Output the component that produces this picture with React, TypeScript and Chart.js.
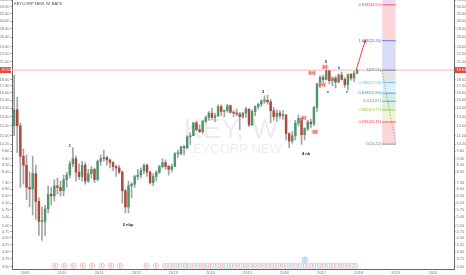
import React, { useEffect, useRef } from "react";
import { Chart, registerables } from "chart.js";

Chart.register(...registerables);

// Monthly candles, first candle = September 2008
const startYear = 2008;
const startMonth = 9;

const opens = [
  12.0, 13.8, 12.0, 9.2,
  8.5, 7.0, 6.9, 7.9, 6.2, 5.2, 5.2, 5.8, 6.6, 6.5, 7.1, 7.0,
  6.8, 7.5, 7.8, 8.6, 9.0, 8.0, 7.7, 8.5, 7.4, 7.9, 8.2, 7.5,
  8.8, 9.0, 9.1, 8.9, 8.7, 8.4, 8.3, 8.0, 6.8, 5.9, 7.1, 7.2,
  7.7, 7.8, 8.1, 8.5, 8.0, 7.3, 7.7, 8.0, 8.4, 8.7, 8.4, 8.2,
  8.4, 9.4, 9.4, 10.0, 9.9, 10.9, 11.0, 12.3, 11.6, 11.4, 12.5, 12.9,
  13.4, 12.9, 13.1, 14.2, 13.6, 13.7, 14.3, 13.5, 13.4, 13.3, 13.0, 13.4,
  13.9, 12.1, 13.6, 14.2, 14.5, 14.9, 15.0, 14.8, 13.7, 13.0, 13.4, 13.1,
  13.2, 11.2, 10.5, 11.0, 12.3, 12.8, 11.1, 11.7, 12.4, 12.2, 14.1, 17.3,
  18.3, 18.0, 19.4, 17.8, 18.2, 17.6, 18.7, 18.0, 17.2, 18.8, 18.2, 19.0,
];
const highs = [
  18.7, 15.4, 12.3, 9.8,
  9.3, 8.0, 9.2, 8.5, 6.4, 5.9, 6.0, 7.1, 7.0, 7.5, 7.6, 7.4,
  7.8, 8.0, 8.8, 9.9, 9.2, 8.6, 8.8, 8.7, 8.2, 8.4, 8.3, 8.9,
  9.3, 9.7, 9.2, 9.0, 8.8, 8.5, 8.5, 8.1, 6.9, 7.4, 7.3, 7.8,
  8.2, 8.3, 8.6, 8.6, 8.1, 7.9, 8.1, 8.5, 9.0, 8.9, 8.5, 8.6,
  9.5, 9.7, 10.0, 10.1, 11.0, 11.3, 12.4, 12.5, 12.1, 12.6, 13.1, 13.6,
  14.0, 13.4, 14.4, 14.4, 13.8, 14.5, 14.4, 13.7, 13.9, 13.5, 13.5, 14.1,
  13.9, 13.8, 14.3, 14.6, 15.1, 15.6, 15.7, 15.1, 14.1, 13.8, 13.7, 13.7,
  13.2, 11.3, 11.4, 12.6, 13.2, 12.9, 11.8, 12.6, 12.7, 14.2, 17.4, 18.6,
  18.7, 19.6, 19.5, 18.4, 18.5, 18.9, 19.2, 18.3, 18.9, 19.0, 19.3, 19.6,
];
const lows = [
  11.0, 9.5, 7.0, 7.2,
  6.3, 5.9, 5.5, 5.3, 4.6, 4.4, 4.6, 5.6, 6.0, 6.2, 6.6, 6.5,
  6.5, 7.0, 7.6, 8.4, 7.4, 7.5, 7.4, 7.2, 7.3, 7.6, 7.3, 7.4,
  8.5, 8.8, 8.5, 8.3, 8.1, 7.7, 7.9, 6.1, 5.6, 5.6, 6.4, 7.0,
  7.5, 7.6, 7.9, 7.7, 7.2, 7.1, 7.4, 7.9, 8.3, 8.2, 7.8, 8.0,
  8.4, 9.1, 9.3, 9.3, 9.8, 10.2, 11.0, 11.5, 11.3, 11.2, 12.3, 12.6,
  12.7, 12.4, 13.0, 13.1, 13.0, 13.5, 13.4, 13.0, 13.1, 11.6, 12.8, 12.9,
  11.9, 12.0, 13.1, 13.9, 14.2, 14.6, 14.5, 12.3, 12.6, 12.5, 12.8, 12.7,
  10.6, 9.9, 10.3, 10.6, 12.0, 10.2, 10.6, 11.5, 11.8, 12.0, 13.6, 16.8,
  17.3, 17.9, 17.3, 17.0, 16.7, 17.5, 17.9, 16.8, 16.4, 17.9, 17.6, 18.9,
];
const closes = [
  13.8, 12.0, 9.2, 8.5,
  7.0, 6.9, 7.9, 6.2, 5.2, 5.2, 5.8, 6.6, 6.5, 7.1, 7.0, 6.8,
  7.5, 7.8, 8.6, 9.0, 8.0, 7.7, 8.5, 7.4, 7.9, 8.2, 7.5, 8.8,
  9.0, 9.1, 8.9, 8.7, 8.4, 8.3, 8.0, 6.8, 5.9, 7.1, 7.2, 7.7,
  7.8, 8.1, 8.5, 8.0, 7.3, 7.7, 8.0, 8.4, 8.7, 8.4, 8.2, 8.4,
  9.4, 9.4, 10.0, 9.9, 10.9, 11.0, 12.3, 11.6, 11.4, 12.5, 12.9, 13.4,
  12.9, 13.1, 14.2, 13.6, 13.7, 14.3, 13.5, 13.4, 13.3, 13.0, 13.4, 13.9,
  12.1, 13.6, 14.2, 14.5, 14.9, 15.0, 14.8, 13.7, 13.0, 13.4, 13.1, 13.2,
  11.2, 10.5, 11.0, 12.3, 12.8, 11.1, 11.7, 12.4, 12.2, 14.1, 17.3, 18.3,
  18.0, 19.4, 17.8, 18.2, 17.6, 18.7, 18.0, 17.2, 18.8, 18.2, 19.0, 19.53,
];

const lastPrice = 19.53;

const yearTicks = [2009, 2010, 2011, 2012, 2013, 2014, 2015, 2016, 2017, 2018, 2019, 2020];
const priceTicks = [
  3.5, 3.75, 4.0, 4.25, 4.5, 4.75, 5.0, 5.4, 5.75, 6.1, 6.5, 6.9, 7.3, 8.0, 8.5, 9.0, 9.6,
  10.2, 11.0, 12.0, 13.0, 14.0, 15.0, 16.0, 17.0, 18.0, 21.0, 22.5, 24.0, 26.0, 28.0, 30.0,
  32.0, 34.0, 36.0,
];

const X_MIN = 2008.65;
const X_MAX = 2020.57;
const Y_MIN = 3.43;
const Y_MAX = 36.05;

// Fibonacci extension (last entry = top edge of the band above 2.618)
const fibRatios = [0, 0.236, 0.382, 0.5, 0.618, 0.786, 1, 1.618, 2.618, 3.618];
const fibPrices = [10.22, 12.41, 13.77, 14.87, 15.96, 17.53, 19.51, 25.26, 34.55, 36.05];
const fibColors = ["#787b86", "#f23645", "#9fbf2a", "#4caf50", "#22a18e", "#64b5f6", "#787b86", "#5060e0", "#f23645", "rgba(0,0,0,0)"];
const fibBands = [
  "rgba(0,0,0,0)", "rgba(242,54,69,0.2)", "rgba(175,205,60,0.22)", "rgba(76,175,80,0.2)",
  "rgba(34,161,142,0.2)", "rgba(100,181,246,0.22)", "rgba(120,123,134,0.2)", "rgba(80,96,224,0.22)",
  "rgba(242,54,69,0.2)", "rgba(176,64,200,0.2)",
];
const fibStartYear = 2018.63;
const fibEndYear = 2019.0;

// Arrow projection
const arrowYears = [2017.93, 2018.17];
const arrowPrices = [19.53, 25.1];

// Wave labels
const waveTexts = ["1", "2 nbp", "3", "4 nb", "5", "(i)", "(ii)", "(iii)", "(iv)", "(v)", "a", "b", "c"];
const waveYears = [2010.21, 2011.78, 2015.42, 2016.58, 2017.12, 2016.52, 2016.82, 2016.74, 2017.01, 2017.09, 2017.17, 2017.47, 2017.68];
const wavePrices = [10.07, 5.05, 16.14, 9.39, 20.98, 12.86, 11.38, 19.05, 17.16, 20.08, 16.14, 19.9, 16.14];
const waveKinds = ["k", "k", "k", "k", "k", "r", "r", "r", "r", "r", "b", "b", "b"];

// Event markers along the bottom
const earningsYears = [
  2009.81, 2010.06, 2010.31, 2010.56, 2010.81, 2011.07, 2011.32, 2011.56,
  2012.28, 2012.53, 2012.78, 2013.03, 2013.29, 2013.54, 2013.78, 2014.02, 2014.28, 2014.53,
  2014.78, 2015.03, 2015.27, 2015.51, 2015.77, 2016.02, 2016.27, 2016.52, 2016.77, 2017.03,
  2017.28, 2017.53, 2017.78,
];
const dividendYears = [
  2012.9, 2013.15, 2013.4, 2013.65, 2013.9, 2014.15, 2014.4, 2014.65, 2014.9, 2015.15,
  2015.4, 2015.65, 2015.9, 2016.15, 2016.4, 2016.65, 2016.9, 2017.15, 2017.4, 2017.65, 2017.9,
];
const splitYears = [2016.55];
const markerPrice = 3.53;
const splitPrice = 3.72;

const FONT = "'Liberation Sans', Arial, sans-serif";

export default function App() {
  const ref = useRef<HTMLCanvasElement>(null);

  useEffect(() => {
    document.body.style.margin = "0";
    const canvas = ref.current!;
    Chart.defaults.font.family = FONT;

    const candleX = opens.map((_, i) => {
      const m = startMonth - 1 + i;
      return startYear + Math.floor(m / 12) + ((m % 12) + 0.5) / 12;
    });
    const up = "#4a9a6e";
    const down = "#b0473b";

    const fibDatasets = fibPrices.map((p, i) => ({
      type: "line" as const,
      data: [
        { x: fibStartYear, y: p },
        { x: fibEndYear, y: p },
      ],
      borderColor: fibColors[i],
      borderWidth: 0.8,
      pointRadius: 0,
      fill: i === 0 ? false : "-1",
      backgroundColor: fibBands[i],
      order: 5,
    }));

    const overlay = {
      id: "overlay",
      beforeDatasetsDraw(chart: any) {
        const c = chart.ctx;
        c.save();
        c.fillStyle = "rgba(0,0,0,0.075)";
        c.textAlign = "center";
        c.textBaseline = "alphabetic";
        c.font = `28px ${FONT}`;
        c.fillText("KEY, W", 231, 138);
        c.font = `13px ${FONT}`;
        c.fillText("KEYCORP NEW", 233, 153);
        c.restore();
      },
      afterDraw(chart: any) {
        const c = chart.ctx;
        const xs = chart.scales.x;
        const ys = chart.scales.y;
        c.save();
        // title
        c.font = `4px ${FONT}`;
        c.fillStyle = "#444";
        c.textAlign = "left";
        c.textBaseline = "middle";
        c.fillText("KEYCORP NEW, W, BATS", 14, 4);

        // fib labels
        const lx = xs.getPixelForValue(fibStartYear) - 1;
        c.textAlign = "right";
        for (let i = 0; i < fibRatios.length - 1; i++) {
          const py = ys.getPixelForValue(fibPrices[i]);
          c.fillStyle = fibColors[i];
          c.fillText(`${fibRatios[i]}(${fibPrices[i].toFixed(2)})`, lx, py);
        }

        // wave labels
        c.textAlign = "center";
        for (let i = 0; i < waveTexts.length; i++) {
          const px = xs.getPixelForValue(waveYears[i]);
          const py = ys.getPixelForValue(wavePrices[i]);
          const kind = waveKinds[i];
          c.font = `bold 4px ${FONT}`;
          if (kind === "r") {
            const w = c.measureText(waveTexts[i]).width + 2;
            c.fillStyle = "rgba(245,180,180,0.6)";
            c.fillRect(px - w / 2, py - 2.5, w, 5);
            c.fillStyle = "#e03030";
          } else if (kind === "b") {
            c.fillStyle = "#3050e0";
          } else {
            c.fillStyle = "#222";
          }
          c.fillText(waveTexts[i], px, py);
        }

        // event marker letters
        c.font = `3px ${FONT}`;
        c.fillStyle = "#e57373";
        earningsYears.forEach((yr) => {
          c.fillText("E", xs.getPixelForValue(yr), ys.getPixelForValue(markerPrice));
        });
        c.fillStyle = "#5aa0e0";
        dividendYears.forEach((yr) => {
          c.fillText("D", xs.getPixelForValue(yr), ys.getPixelForValue(markerPrice));
        });
        splitYears.forEach((yr) => {
          c.fillText("S", xs.getPixelForValue(yr), ys.getPixelForValue(splitPrice));
        });

        // price tags
        const ty = ys.getPixelForValue(lastPrice);
        c.fillStyle = "#e4483c";
        c.fillRect(455, ty - 3, 11, 6);
        c.fillRect(0, ty - 3, 11, 6);
        c.fillStyle = "#fff";
        c.font = `4px ${FONT}`;
        c.textAlign = "left";
        c.fillText(lastPrice.toFixed(2), 456.5, ty);
        c.fillText(lastPrice.toFixed(2), 1, ty);
        c.restore();
      },
    };

    const yAxisBase = (position: "left" | "right") => ({
      type: "logarithmic" as const,
      position,
      min: Y_MIN,
      max: Y_MAX,
      border: { display: true, color: "#666", width: 1 },
      grid: { drawOnChartArea: false, drawTicks: true, tickLength: 1.5, color: "#999" },
      ticks: {
        font: { size: 4, family: FONT },
        color: "#777",
        padding: 1,
        autoSkip: false,
        callback: (v: any) => Number(v).toFixed(2),
      },
      afterBuildTicks: (s: any) => {
        s.ticks = priceTicks.map((v) => ({ value: v }));
      },
      afterFit: (s: any) => {
        s.width = 12;
        s.paddingTop = 0;
        s.paddingBottom = 0;
      },
    });

    const chart = new Chart(canvas, {
      type: "bar",
      data: {
        datasets: [
          {
            type: "bar",
            label: "bodies",
            data: candleX.map((x, i) => ({ x, y: [opens[i], closes[i]] })) as any,
            backgroundColor: closes.map((c, i) => (c >= opens[i] ? up : down)),
            barThickness: 1.8,
            minBarLength: 1,
            grouped: false,
            borderWidth: 0,
            order: 1,
          } as any,
          {
            type: "bar",
            label: "wicks",
            data: candleX.map((x, i) => ({ x, y: [lows[i], highs[i]] })) as any,
            backgroundColor: "#a4a4a4",
            barThickness: 1,
            grouped: false,
            borderWidth: 0,
            order: 2,
          } as any,
          {
            type: "line",
            label: "price",
            data: [
              { x: X_MIN, y: lastPrice },
              { x: X_MAX, y: lastPrice },
            ],
            borderColor: "#f5b5b5",
            borderWidth: 1,
            pointRadius: 0,
            order: 6,
          },
          ...(fibDatasets as any[]),
          {
            type: "line",
            label: "diag",
            data: [
              { x: fibStartYear, y: fibPrices[6] },
              { x: fibEndYear, y: fibPrices[0] },
            ],
            borderColor: "#9a9a9a",
            borderWidth: 0.8,
            borderDash: [1.5, 1.5],
            pointRadius: 0,
            order: 4,
          },
          {
            type: "line",
            label: "arrow",
            data: arrowYears.map((x, i) => ({ x, y: arrowPrices[i] })),
            borderColor: "#ef4040",
            borderWidth: 1,
            pointRadius: [0, 2.2],
            pointStyle: "triangle",
            rotation: 19,
            pointBackgroundColor: "#ef4040",
            pointBorderWidth: 0,
            order: 0,
          } as any,
          {
            type: "line",
            label: "earnings",
            data: earningsYears.map((x) => ({ x, y: markerPrice })),
            showLine: false,
            pointRadius: 2.7,
            pointBorderColor: "#f3a3a3",
            pointBackgroundColor: "#ffffff",
            pointBorderWidth: 0.7,
            order: 3,
          },
          {
            type: "line",
            label: "dividends",
            data: dividendYears.map((x) => ({ x, y: markerPrice })),
            showLine: false,
            pointRadius: 2.7,
            pointBorderColor: "#9cc8ee",
            pointBackgroundColor: "rgba(255,255,255,0.6)",
            pointBorderWidth: 0.7,
            order: 3,
          },
          {
            type: "line",
            label: "split",
            data: splitYears.map((x) => ({ x, y: splitPrice })),
            showLine: false,
            pointRadius: 2.7,
            pointBorderColor: "#7fb6ea",
            pointBackgroundColor: "#eaf3fc",
            pointBorderWidth: 0.7,
            order: 3,
          },
        ],
      },
      options: {
        responsive: false,
        animation: false,
        devicePixelRatio: 1,
        events: [],
        layout: { padding: 0, autoPadding: false },
        plugins: { legend: { display: false }, tooltip: { enabled: false } },
        scales: {
          x: {
            type: "linear",
            min: X_MIN,
            max: X_MAX,
            offset: false,
            border: { display: true, color: "#666", width: 1 },
            grid: { drawOnChartArea: false, drawTicks: true, tickLength: 1, color: "#999", offset: false },
            ticks: {
              font: { size: 4, family: FONT },
              color: "#777",
              padding: 0.5,
              maxRotation: 0,
              autoSkip: false,
              callback: (v: any) => String(v),
            },
            afterBuildTicks: (s: any) => {
              s.ticks = yearTicks.map((v) => ({ value: v }));
            },
            afterFit: (s: any) => {
              s.height = 6;
              s.paddingLeft = 0;
              s.paddingRight = 0;
            },
          },
          y: yAxisBase("right"),
          y2: yAxisBase("left"),
        } as any,
      },
      plugins: [overlay],
    } as any);

    return () => chart.destroy();
  }, []);

  return (
    <div style={{ width: 466, height: 275, position: "relative", background: "#fff" }}>
      <canvas ref={ref} width={466} height={275} style={{ display: "block", width: 466, height: 275 }} />
    </div>
  );
}
